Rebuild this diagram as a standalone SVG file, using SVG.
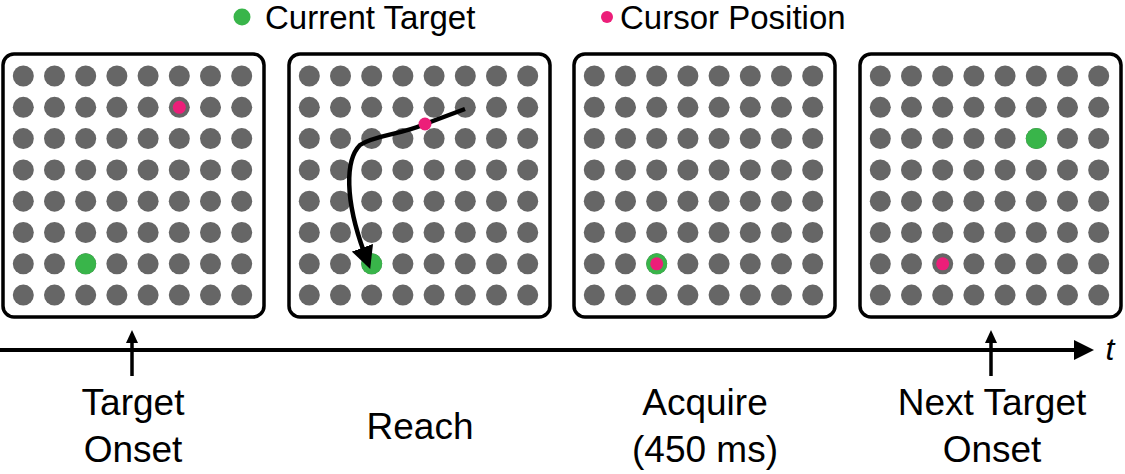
<svg xmlns="http://www.w3.org/2000/svg" xmlns:xlink="http://www.w3.org/1999/xlink" width="1125" height="474" viewBox="0 0 1125 474">
<style>
.p{fill:#fff;stroke:#000;stroke-width:3.5}
.d{fill:#666}
.g{fill:#39b54a}
.k{fill:#ec1e79}
text{font-family:"Liberation Sans",Arial,sans-serif;font-size:37px;fill:#000;text-anchor:middle}
</style>
<defs>
<g id="row">
<circle class="d" cx="20.3" cy="0" r="10.5"/><circle class="d" cx="51.5" cy="0" r="10.5"/><circle class="d" cx="82.7" cy="0" r="10.5"/><circle class="d" cx="113.9" cy="0" r="10.5"/><circle class="d" cx="145.1" cy="0" r="10.5"/><circle class="d" cx="176.3" cy="0" r="10.5"/><circle class="d" cx="207.5" cy="0" r="10.5"/><circle class="d" cx="238.7" cy="0" r="10.5"/>
</g>
<g id="grid">
<use xlink:href="#row" y="76"/><use xlink:href="#row" y="107.3"/><use xlink:href="#row" y="138.6"/><use xlink:href="#row" y="169.9"/><use xlink:href="#row" y="201.2"/><use xlink:href="#row" y="232.5"/><use xlink:href="#row" y="263.8"/><use xlink:href="#row" y="295.1"/>
</g>
<marker id="ah" viewBox="0 0 10 10" refX="2" refY="5" markerWidth="5" markerHeight="5" orient="auto" markerUnits="strokeWidth"><path d="M0,0L10,5L0,10z"/></marker>
</defs>
<g id="legend">
<circle class="g" cx="242" cy="17" r="8.5"/><text x="265" y="29" style="text-anchor:start;font-size:33px">Current Target</text>
<circle class="k" cx="607" cy="17" r="6"/><text x="620" y="29" style="text-anchor:start;font-size:33px">Cursor Position</text>
</g>
<g id="panel1"><rect class="p" x="3" y="54" width="261" height="263" rx="11"/><use xlink:href="#grid" x="3"/>
<circle class="k" cx="179.3" cy="107.3" r="6.5"/><circle class="g" cx="85.7" cy="263.8" r="10.5"/></g>
<g id="panel2"><rect class="p" x="289" y="54" width="261" height="263" rx="11"/><use xlink:href="#grid" x="289"/>
<circle class="g" cx="371.7" cy="263.8" r="10.5"/></g>
<g id="panel3"><rect class="p" x="574" y="54" width="261" height="263" rx="11"/><use xlink:href="#grid" x="574"/>
<circle class="g" cx="656.7" cy="263.8" r="10.5"/><circle class="k" cx="656.7" cy="263.8" r="6.5"/></g>
<g id="panel4"><rect class="p" x="860" y="54" width="261" height="263" rx="11"/><use xlink:href="#grid" x="860"/>
<circle class="g" cx="1036.3" cy="138.6" r="10.5"/><circle class="k" cx="942.7" cy="263.8" r="6.5"/></g>
<g id="connectors" fill="none" stroke="#000">
<path d="M465,109 L425,124 C400,135 375,135 360,145 C345,160 345,200 364,252" stroke-width="4.5" marker-end="url(#ah)"/>
<line x1="0" y1="350" x2="1078" y2="350" stroke-width="4" marker-end="url(#ah)"/>
<line x1="132" y1="376" x2="132" y2="340" stroke-width="3.5"/>
<polygon points="126,343 132,330 138,343" fill="#000" stroke="none"/>
<line x1="991" y1="376" x2="991" y2="340" stroke-width="3.5"/>
<polygon points="985,343 991,330 997,343" fill="#000" stroke="none"/>
<circle class="k" cx="425" cy="124" r="6.5" stroke="none"/>
</g>
<g id="labels">
<text x="1110" y="360" style="font-style:italic;font-size:32px">t</text>
<text x="133" y="415">Target</text><text x="133" y="462">Onset</text>
<text x="420" y="439">Reach</text>
<text x="705" y="415">Acquire</text><text x="705" y="462">(450 ms)</text>
<text x="992" y="415">Next Target</text><text x="992" y="462">Onset</text>
</g>
</svg>
